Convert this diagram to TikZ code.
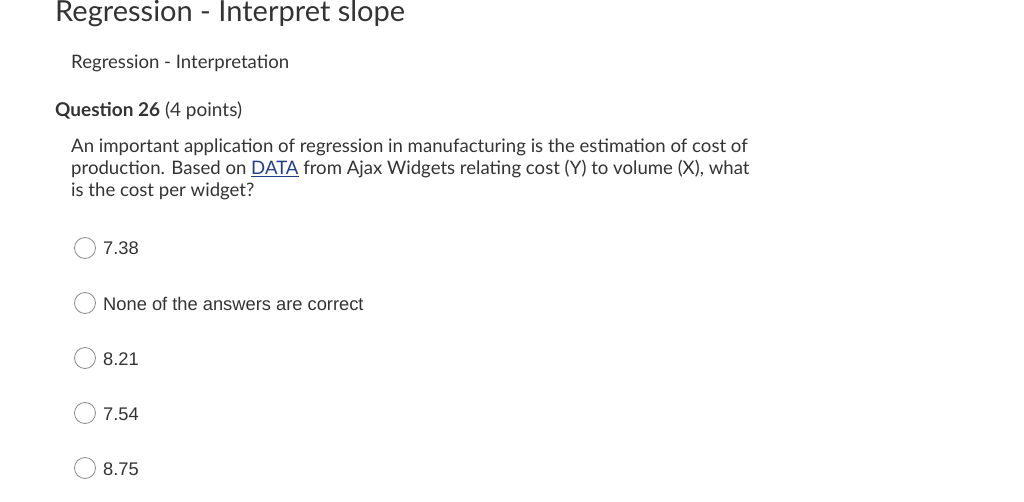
\documentclass[tikz,border=0pt]{standalone}
\usepackage{fontspec}
\setmainfont{Lato}
\newfontfamily\optfont{Liberation Sans}
\definecolor{txt}{HTML}{333333}
\definecolor{lnk}{HTML}{1F3F8C}
\begin{document}
\begin{tikzpicture}[x=1pt,y=1pt,
  every node/.style={inner sep=0pt,anchor=base west,text=txt},
  body/.style={font=\fontsize{18.6}{22}\selectfont},
  opt/.style={font=\optfont\fontsize{18.3}{19}\selectfont},
  radio/.style={draw=black!45,line width=0.8pt,fill=white}]
\useasboundingbox (0,0) rectangle (1024,-502);
\node (title) at (55,-22) {\fontsize{29}{32}\selectfont Regression - Interpret slope};
\node[body] (sub) at (71,-69) {Regression - Interpretation};
\node[body] (q) at (55,-117) {\fontsize{19}{22}\selectfont\textbf{Question 26} (4 points)};
\node[body] (l1) at (71,-153) {An important application of regression in manufacturing is the estimation of cost of};
\node[body] (l2) at (71,-175) {production. Based on {\color{lnk}\underline{DATA}} from Ajax Widgets relating cost (Y) to volume (X), what};
\node[body] (l3) at (71,-197) {is the cost per widget?};
\foreach \y/\t [count=\i] in {248/7.38,303/None of the answers are correct,358/8.21,413/7.54,468/8.75}{
  \draw[radio] (85,-\y) circle (10.5);
  \node[opt] (o\i) at (103,-\y-7) {\t};
}
\end{tikzpicture}
\end{document}
